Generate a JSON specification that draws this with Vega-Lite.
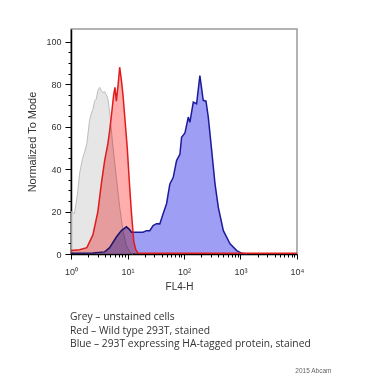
{
  "$schema": "https://vega.github.io/schema/vega-lite/v6.json",
  "background": "white",
  "autosize": {"type": "pad"},
  "padding": {"left": 26, "top": 28, "right": 5, "bottom": 5},
  "title": {"text": "2015 Abcam", "orient": "bottom", "anchor": "end", "font": "Liberation Sans", "fontSize": 6.5, "fontWeight": "normal", "color": "#666", "offset": 18, "dx": 20},
  "config": {
    "view": {"stroke": "#9a9a9a", "strokeWidth": 1.5},
    "axis": {"grid": false, "domainColor": "#000", "domainWidth": 1.5, "tickColor": "#000", "tickWidth": 1, "labelFont": "Liberation Sans", "labelColor": "#333", "titleFont": "Liberation Sans", "titleFontWeight": "normal", "titleColor": "#333", "titleFontSize": 10, "labelOverlap": false, "labelFlush": false}
  },
  "datasets": {
    "hist": [
      {"s": "grey", "x": 1, "y": 20}, {"s": "grey", "x": 1.15, "y": 19}, {"s": "grey", "x": 1.3, "y": 28}, {"s": "grey", "x": 1.42, "y": 38}, {"s": "grey", "x": 1.6, "y": 45}, {"s": "grey", "x": 1.74, "y": 48}, {"s": "grey", "x": 1.91, "y": 52}, {"s": "grey", "x": 2.13, "y": 63}, {"s": "grey", "x": 2.28, "y": 66}, {"s": "grey", "x": 2.44, "y": 68}, {"s": "grey", "x": 2.61, "y": 72}, {"s": "grey", "x": 2.8, "y": 73}, {"s": "grey", "x": 2.99, "y": 77}, {"s": "grey", "x": 3.21, "y": 78.5}, {"s": "grey", "x": 3.44, "y": 77}, {"s": "grey", "x": 3.67, "y": 76}, {"s": "grey", "x": 3.94, "y": 76.5}, {"s": "grey", "x": 4.22, "y": 75}, {"s": "grey", "x": 4.5, "y": 73}, {"s": "grey", "x": 4.83, "y": 67}, {"s": "grey", "x": 5.45, "y": 52}, {"s": "grey", "x": 6.35, "y": 36}, {"s": "grey", "x": 7.27, "y": 22}, {"s": "grey", "x": 8.32, "y": 11}, {"s": "grey", "x": 9.56, "y": 4}, {"s": "grey", "x": 10.9, "y": 1}, {"s": "grey", "x": 12.3, "y": 0},
      {"s": "red", "x": 1, "y": 1.7}, {"s": "red", "x": 1.42, "y": 2}, {"s": "red", "x": 1.91, "y": 3}, {"s": "red", "x": 2.44, "y": 9}, {"s": "red", "x": 2.99, "y": 20}, {"s": "red", "x": 3.44, "y": 33}, {"s": "red", "x": 3.94, "y": 44}, {"s": "red", "x": 4.5, "y": 52}, {"s": "red", "x": 4.83, "y": 58}, {"s": "red", "x": 5.18, "y": 65}, {"s": "red", "x": 5.69, "y": 75}, {"s": "red", "x": 6.0, "y": 78.5}, {"s": "red", "x": 6.35, "y": 72}, {"s": "red", "x": 6.78, "y": 79}, {"s": "red", "x": 7.27, "y": 88}, {"s": "red", "x": 7.79, "y": 82}, {"s": "red", "x": 8.32, "y": 75}, {"s": "red", "x": 8.92, "y": 65}, {"s": "red", "x": 9.9, "y": 50}, {"s": "red", "x": 10.9, "y": 32}, {"s": "red", "x": 11.7, "y": 20}, {"s": "red", "x": 12.9, "y": 6}, {"s": "red", "x": 14, "y": 2}, {"s": "red", "x": 15.5, "y": 0.3}, {"s": "red", "x": 10000, "y": 0.3},
      {"s": "blue", "x": 1, "y": 0.3}, {"s": "blue", "x": 2.44, "y": 0.5}, {"s": "blue", "x": 3.94, "y": 1}, {"s": "blue", "x": 4.83, "y": 3}, {"s": "blue", "x": 6.35, "y": 8}, {"s": "blue", "x": 7.79, "y": 11}, {"s": "blue", "x": 9.56, "y": 12.8}, {"s": "blue", "x": 10.9, "y": 11.5}, {"s": "blue", "x": 11.7, "y": 10.3}, {"s": "blue", "x": 14.4, "y": 10.3}, {"s": "blue", "x": 18.8, "y": 10.3}, {"s": "blue", "x": 21.7, "y": 11}, {"s": "blue", "x": 24.8, "y": 11}, {"s": "blue", "x": 28.4, "y": 13.4}, {"s": "blue", "x": 32.6, "y": 14.3}, {"s": "blue", "x": 37.3, "y": 14.2}, {"s": "blue", "x": 42.7, "y": 19}, {"s": "blue", "x": 49.1, "y": 23.7}, {"s": "blue", "x": 56.2, "y": 33}, {"s": "blue", "x": 64.3, "y": 36}, {"s": "blue", "x": 73.9, "y": 44}, {"s": "blue", "x": 84.6, "y": 47}, {"s": "blue", "x": 90.6, "y": 55}, {"s": "blue", "x": 104, "y": 57}, {"s": "blue", "x": 119, "y": 64.5}, {"s": "blue", "x": 127, "y": 62}, {"s": "blue", "x": 146, "y": 71.6}, {"s": "blue", "x": 167, "y": 70.8}, {"s": "blue", "x": 191, "y": 84}, {"s": "blue", "x": 219, "y": 72.4}, {"s": "blue", "x": 245, "y": 72}, {"s": "blue", "x": 269, "y": 64.5}, {"s": "blue", "x": 309, "y": 48.8}, {"s": "blue", "x": 354, "y": 33}, {"s": "blue", "x": 405, "y": 22}, {"s": "blue", "x": 497, "y": 11}, {"s": "blue", "x": 653, "y": 4.8}, {"s": "blue", "x": 859, "y": 1.6}, {"s": "blue", "x": 1054, "y": 0.3}, {"s": "blue", "x": 1300, "y": 0}
    ]
  },
  "vconcat": [
    {
      "width": 226,
      "height": 225,
      "title": {"text": ["Grey – unstained cells", "Red – Wild type 293T, stained", "Blue – 293T expressing HA-tagged protein, stained"], "orient": "bottom", "anchor": "start", "frame": "group", "font": "Open Sans", "fontSize": 10.3, "fontWeight": "normal", "color": "#333", "lineHeight": 13.7, "offset": 21, "dx": -1},
      "data": {"name": "hist"},
      "encoding": {
        "x": {"field": "x", "type": "quantitative", "scale": {"type": "log", "domain": [1, 10000], "nice": false},
          "axis": {"title": "FL4-H", "titleX": 108, "values": [1,2,3,4,5,6,7,8,9,10,20,30,40,50,60,70,80,90,100,200,300,400,500,600,700,800,900,1000,2000,3000,4000,5000,6000,7000,8000,9000,10000],
            "labelExpr": "indexof([1,10,100,1000,10000], datum.value) >= 0 ? '10' + ['⁰','¹','²','³','⁴'][round(log(datum.value)/LN10)] : ''",
            "tickSize": {"condition": {"test": "indexof([1,10,100,1000,10000], datum.value) >= 0", "value": 5}, "value": 3},
            "labelFontSize": 9, "labelPadding": 8, "titlePadding": 5}},
        "y": {"field": "y", "type": "quantitative", "scale": {"domain": [0, 106], "nice": false, "zero": false},
          "axis": {"title": "Normalized To Mode", "titleFontSize": 11, "values": [0,5,10,15,20,25,30,35,40,45,50,55,60,65,70,75,80,85,90,95,100],
            "labelExpr": "datum.value % 20 === 0 ? datum.label : ''",
            "tickSize": {"condition": {"test": "datum.value % 20 === 0", "value": 6}, "value": 3},
            "labelFontSize": 9, "labelPadding": 4, "titlePadding": 8}}
      },
      "layer": [
        {"transform": [{"filter": "datum.s === 'grey'"}], "mark": {"type": "area", "fill": "#dcdcdc", "line": {"color": "#bdbdbd", "strokeWidth": 1}}},
        {"transform": [{"filter": "datum.s === 'blue'"}], "mark": {"type": "area", "fill": "#7474f0", "blend": "multiply", "line": {"color": "#1c1c9a", "strokeWidth": 1.5}}},
        {"transform": [{"filter": "datum.s === 'red'"}], "mark": {"type": "area", "fill": "#ff8a8a", "blend": "multiply", "line": {"color": "#e01c1c", "strokeWidth": 1.5}}}
      ]
    }
  ]
}
